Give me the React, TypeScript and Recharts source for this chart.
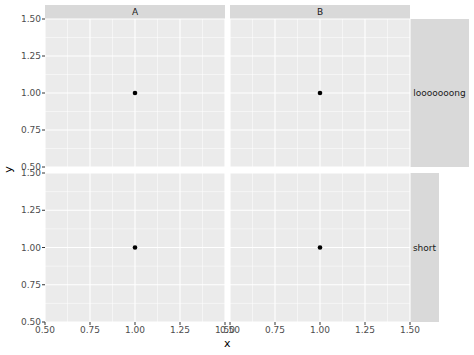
import React from 'react';
import { ScatterChart, Scatter, XAxis, YAxis, CartesianGrid } from 'recharts';

const colFacets = ['A', 'B'];
const rowFacets = ['looooooong', 'short'];
const pointCol = ['A', 'B', 'A', 'B'];
const pointRow = ['looooooong', 'looooooong', 'short', 'short'];
const xValues = [1, 1, 1, 1];
const yValues = [1, 1, 1, 1];
const majorTicks = [0.5, 0.75, 1, 1.25, 1.5];
const minorTicks = [0.625, 0.875, 1.125, 1.375];
const tickLabels = ['0.50', '0.75', '1.00', '1.25', '1.50'];

const FONT = '"DejaVu Sans", sans-serif';
const PAD = 14; // room so edge tick labels are not clipped by the svg
const colBox = [
  { left: 45, width: 180 },
  { left: 230, width: 180 },
];
const rowBox = [
  { top: 19, height: 148, stripW: 59 },
  { top: 173, height: 149, stripW: 29 },
];

const fmt = (v: number) => tickLabels[majorTicks.indexOf(v)] ?? String(v);

const Dot = (p: any) => <circle cx={p.cx} cy={p.cy} r={2.3} fill="#000" />;

const Panel: React.FC<{ ci: number; ri: number }> = ({ ci, ri }) => {
  const showY = ci === 0;
  const showX = ri === rowBox.length - 1;
  const yW = showY ? 45 : 0;
  const xH = showX ? 22 : 0;
  const padL = showY ? 0 : PAD;
  const data = xValues
    .map((x, i) => ({ x, y: yValues[i], c: pointCol[i], r: pointRow[i] }))
    .filter((d) => d.c === colFacets[ci] && d.r === rowFacets[ri]);
  const tick = { fontSize: 9, fill: '#4D4D4D', fontFamily: FONT };
  return (
    <div
      style={{
        position: 'absolute',
        left: colBox[ci].left - yW - padL,
        top: rowBox[ri].top - PAD,
        pointerEvents: 'none',
      }}
    >
      <ScatterChart
        width={colBox[ci].width + yW + padL + PAD}
        height={rowBox[ri].height + xH + 2 * PAD}
        margin={{ top: PAD, right: PAD, bottom: PAD, left: padL }}
      >
        <CartesianGrid
          fill="#EBEBEB"
          stroke="#FFFFFF"
          strokeWidth={0.5}
          horizontalValues={minorTicks}
          verticalValues={minorTicks}
        />
        <CartesianGrid
          stroke="#FFFFFF"
          strokeWidth={1.1}
          horizontalValues={majorTicks}
          verticalValues={majorTicks}
        />
        <XAxis
          type="number"
          dataKey="x"
          domain={[0.5, 1.5]}
          ticks={majorTicks}
          interval={0}
          allowDataOverflow
          hide={!showX}
          height={xH}
          axisLine={false}
          tickSize={3}
          tickMargin={2}
          tickLine={{ stroke: '#333333' }}
          tick={tick}
          tickFormatter={fmt}
        />
        <YAxis
          type="number"
          dataKey="y"
          domain={[0.5, 1.5]}
          ticks={majorTicks}
          interval={0}
          allowDataOverflow
          hide={!showY}
          width={yW}
          axisLine={false}
          tickSize={3}
          tickMargin={1}
          tickLine={{ stroke: '#333333' }}
          tick={tick}
          tickFormatter={fmt}
        />
        <Scatter data={data} shape={Dot} isAnimationActive={false} />
      </ScatterChart>
    </div>
  );
};

export default function App() {
  const stripText: React.CSSProperties = {
    position: 'absolute',
    background: '#D9D9D9',
    color: '#1A1A1A',
    fontFamily: FONT,
    fontSize: 9,
    display: 'flex',
    alignItems: 'center',
    justifyContent: 'center',
    whiteSpace: 'nowrap',
  };
  return (
    <div style={{ position: 'absolute', left: 0, top: 0, width: 474, height: 355, background: '#fff' }}>
      {colFacets.map((c, ci) => (
        <div key={c} style={{ ...stripText, left: colBox[ci].left, top: 5, width: colBox[ci].width, height: 14 }}>
          {c}
        </div>
      ))}
      {rowFacets.map((r, ri) => (
        <div
          key={r}
          style={{ ...stripText, left: 410, top: rowBox[ri].top, width: rowBox[ri].stripW, height: rowBox[ri].height }}
        >
          {r}
        </div>
      ))}
      {rowFacets.map((r, ri) => colFacets.map((c, ci) => <Panel key={r + c} ci={ci} ri={ri} />))}
      <div
        style={{
          position: 'absolute',
          left: 224,
          top: 337,
          fontFamily: FONT,
          fontSize: 11,
          color: '#000',
        }}
      >
        x
      </div>
      <div
        style={{
          position: 'absolute',
          left: 5,
          top: 163,
          fontFamily: FONT,
          fontSize: 11,
          color: '#000',
          transform: 'rotate(-90deg)',
        }}
      >
        y
      </div>
    </div>
  );
}
